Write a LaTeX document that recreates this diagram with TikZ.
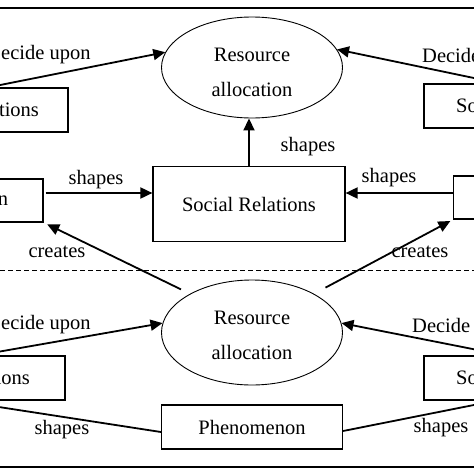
\documentclass[tikz,border=0pt]{standalone}
\usepackage{fontspec}
\setmainfont{Liberation Serif}
\usetikzlibrary{arrows.meta,shapes.geometric}
\begin{document}
\begin{tikzpicture}[x=1pt,y=-1pt,>={Triangle[length=12pt,width=11pt]},
	every node/.style={font=\fontsize{20.5}{24}\selectfont},
	box/.style={draw,line width=1.2pt,inner sep=0pt},
	ell/.style={draw,ellipse,line width=0.9pt,minimum width=181pt,minimum height=101pt,inner sep=0pt},
	arr/.style={->,line width=1.8pt},
	lbl/.style={inner sep=0pt}]
		\useasboundingbox (0,0) rectangle (474,474);
		\clip (0,0) rectangle (474,474);
		% frame and separator
		\draw[line width=2.3pt] (0,8) -- (474,8);
		\draw[line width=2pt] (0,467) -- (474,467);
		\draw[dash pattern=on 5pt off 3pt,line width=1pt] (0,270) -- (474,270);
		% nodes
		\node[ell,label={[lbl,align=center,yshift=-5pt]center:Resource\\[11pt]allocation}] (res1) at (252,67.5) {};
		\node[ell,minimum height=105pt,label={[lbl,align=center,yshift=-2.5pt]center:Resource\\[11pt]allocation}] (res2) at (252,332.5) {};
		\node[box,minimum width=192pt,minimum height=75pt] (soc) at (249,204) {Social Relations};
		\node[box,minimum width=181pt,minimum height=44pt] (phen) at (252,427) {Phenomenon};
		\node[box,minimum width=98pt,minimum height=44pt] (inst1) at (19,110) {tions};
		\node[box,minimum width=110pt,minimum height=44pt] (inst2) at (10,378) {tions};
		\node[box,minimum width=80pt,minimum height=43pt] (phl) at (3,200.5) {n};
		\node[box,minimum width=86pt,minimum height=44pt] (so1) at (467,106) {So};
		\node[box,minimum width=86pt,minimum height=44pt] (so2) at (467,378) {So};
		\node[box,minimum width=80pt,minimum height=43pt,anchor=west] (phr) at (453,197.5) {};
		% free ends outside the frame
		\coordinate (a1) at (-25,90);
		\coordinate (a2) at (493,82);
		\coordinate (a3) at (-20,355);
		\coordinate (a4) at (503,355);
		\coordinate (a5) at (-40,401);
		\coordinate (a6) at (499,400);
		\coordinate (lmout) at ([yshift=7.5pt]phl.east);
		\coordinate (rmout) at ([yshift=4.5pt]phr.west);
		% connectors
		\draw[arr] (a1) -- (res1.170);
		\draw[arr] (a2) -- (res1.12);
		\draw[arr] (soc.north) -- (soc.north |- res1.south);
		\draw[arr,shorten <=2pt] (lmout) -- (lmout -| soc.west);
		\draw[arr] (rmout) -- (rmout -| soc.east);
		\draw[arr,shorten <=10pt,shorten >=4pt] (res2.148) -- (phl.south east);
		\draw[arr,shorten <=13pt,shorten >=3pt] (res2.32) -- (phr.south west);
		\draw[arr] (a3) -- (res2.174);
		\draw[arr] (a4) -- (res2.6);
		\draw[line width=1.8pt] (a5) -- ([yshift=-5pt]phen.west);
		\draw[line width=1.8pt] (a6) -- ([yshift=-4pt]phen.east);
		% labels
		\node[lbl,anchor=west] (dec1) at (1,55) {ecide upon};
		\node[lbl,anchor=west] (dec2) at (422,55) {Decide};
		\node[lbl,anchor=west] (dec3) at (1,325) {ecide upon};
		\node[lbl,anchor=west] (dec4) at (412,325) {Decide};
		\node[lbl] (sh1) at (96,180) {shapes};
		\node[lbl] (sh2) at (308,147) {shapes};
		\node[lbl] (sh3) at (389,178) {shapes};
		\node[lbl] (sh4) at (62,430) {shapes};
		\node[lbl] (sh5) at (441,428) {shapes};
		\node[lbl] (cr1) at (57,252) {creates};
		\node[lbl] (cr2) at (420,252) {creates};
\end{tikzpicture}
\end{document}
